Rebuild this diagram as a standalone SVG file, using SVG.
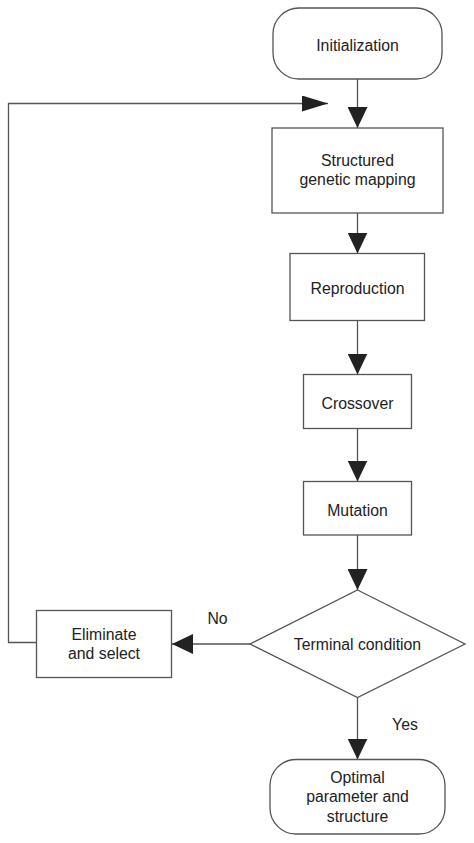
<svg xmlns="http://www.w3.org/2000/svg" width="474" height="843" viewBox="0 0 474 843">
<defs>
<style>
.box{fill:#fff;stroke:#555;stroke-width:1.3}
.ln{fill:none;stroke:#555;stroke-width:1.3}
text{font-family:"Liberation Sans",Arial,sans-serif;font-size:15.8px;fill:#222;text-anchor:middle}
</style>
<marker id="ah" viewBox="0 0 21 20" refX="21" refY="10" markerWidth="21" markerHeight="20" markerUnits="userSpaceOnUse" orient="auto">
<path d="M0,0 L21,10 L0,20 z" fill="#222"/>
</marker>
<marker id="ah2" viewBox="0 0 26 16" refX="26" refY="8" markerWidth="26" markerHeight="16" markerUnits="userSpaceOnUse" orient="auto">
<path d="M0,0 L26,8 L0,16 z" fill="#222"/>
</marker>
</defs>
<rect width="474" height="843" fill="#fff"/>
<g id="connectors">
<line class="ln" x1="357.5" y1="79" x2="357.5" y2="128" marker-end="url(#ah)"/>
<line class="ln" x1="357.5" y1="213" x2="357.5" y2="253.5" marker-end="url(#ah)"/>
<line class="ln" x1="357.5" y1="320.5" x2="357.5" y2="374.5" marker-end="url(#ah)"/>
<line class="ln" x1="357.5" y1="428.5" x2="357.5" y2="481.5" marker-end="url(#ah)"/>
<line class="ln" x1="357.5" y1="535" x2="357.5" y2="590" marker-end="url(#ah)"/>
<line class="ln" x1="357.5" y1="697.5" x2="357.5" y2="759.5" marker-end="url(#ah)"/>
<line class="ln" x1="250" y1="644" x2="172" y2="644" marker-end="url(#ah)"/>
<polyline class="ln" points="36.5,642.5 8.5,642.5 8.5,103.5 328,103.5" marker-end="url(#ah2)"/>
<text x="217.5" y="623.5">No</text>
<text x="405" y="730">Yes</text>
</g>
<g id="initialization">
<rect class="box" x="273" y="8" width="169" height="71" rx="26" ry="26"/>
<text x="357.5" y="51">Initialization</text>
</g>
<g id="structured-genetic-mapping">
<rect class="box" x="272" y="128" width="171" height="85"/>
<text x="357.5" y="165.5">Structured</text>
<text x="357.5" y="184.5">genetic mapping</text>
</g>
<g id="reproduction">
<rect class="box" x="290" y="253.5" width="134.5" height="67"/>
<text x="357.5" y="294">Reproduction</text>
</g>
<g id="crossover">
<rect class="box" x="303.5" y="374.5" width="108" height="54"/>
<text x="357.5" y="408.5">Crossover</text>
</g>
<g id="mutation">
<rect class="box" x="303.5" y="481.5" width="108" height="53.5"/>
<text x="357.5" y="515.5">Mutation</text>
</g>
<g id="terminal-condition">
<polygon class="box" points="357.5,590 465,644 357.5,697.5 250,644"/>
<text x="357.5" y="649.5">Terminal condition</text>
</g>
<g id="eliminate-and-select">
<rect class="box" x="36.5" y="610.5" width="135" height="67"/>
<text x="104" y="639.5">Eliminate</text>
<text x="104" y="659">and select</text>
</g>
<g id="optimal">
<rect class="box" x="270" y="759.5" width="175" height="74.5" rx="26" ry="26"/>
<text x="357.5" y="782.5">Optimal</text>
<text x="357.5" y="802">parameter and</text>
<text x="357.5" y="821.5">structure</text>
</g>
</svg>
